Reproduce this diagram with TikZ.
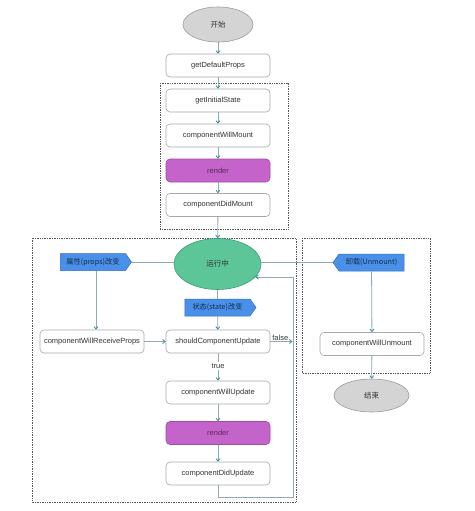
\documentclass[tikz,border=0pt]{standalone}
\usepackage{fontspec}
\setmainfont{Liberation Sans}
\newfontfamily\cjk{Noto Sans CJK SC}
\usetikzlibrary{shapes.geometric,shapes.symbols,arrows.meta}
\definecolor{linec}{HTML}{8FAAB2}
\definecolor{tipc}{HTML}{3C8CA0}
\definecolor{boxb}{HTML}{A8A8A8}
\definecolor{grayf}{HTML}{D4D4D4}
\definecolor{grayb}{HTML}{9C9C9C}
\definecolor{greenf}{HTML}{5CC698}
\definecolor{greenb}{HTML}{3E9C74}
\definecolor{purpf}{HTML}{C463C9}
\definecolor{purpb}{HTML}{A04CA8}
\definecolor{bluef}{HTML}{4A90E8}
\definecolor{blueb}{HTML}{2F6FC4}
\definecolor{txt}{HTML}{333333}
\definecolor{dotc}{HTML}{555555}
\tikzset{
  every node/.style={font=\fontsize{7.5}{8.5}\selectfont, text=txt, inner sep=0pt},
  stepbox/.style={draw=boxb, line width=0.6pt, fill=white, rounded corners=4pt, minimum width=104pt, minimum height=23pt},
  renderbox/.style={stepbox, draw=purpb, fill=purpf, text=purpb!55!black},
  endell/.style={ellipse, draw=grayb, fill=grayf, line width=0.6pt, font=\fontsize{7.5}{8.5}\selectfont\cjk},
  runell/.style={ellipse, draw=greenb, fill=greenf, line width=0.6pt, minimum width=87pt, minimum height=51pt, font=\fontsize{7.5}{8.5}\selectfont\cjk},
  flagr/.style={signal, signal to=east, signal pointer angle=110, draw=blueb, fill=bluef, line width=0.5pt, minimum width=71pt, minimum height=17pt, text=blueb!40!black, font=\fontsize{7.2}{8}\selectfont\cjk},
  flagl/.style={flagr, signal to=west},
  arr/.style={draw=linec, line width=0.8pt, -{Straight Barb[length=2.5pt,width=4pt,color=tipc]}},
  ln/.style={draw=linec, line width=0.8pt},
  group/.style={draw=dotc, densely dotted, line width=0.7pt},
  lbl/.style={font=\fontsize{7.5}{8.5}\selectfont, text=txt}
}
\begin{document}
\begin{tikzpicture}[x=1pt,y=-1pt]
\useasboundingbox[fill=white] (0,0) rectangle (474,511);
% groups
\draw[group] (160,83) rectangle (288,229);
\draw[group] (32,238) rectangle (296,502);
\draw[group] (302,238) rectangle (430,373);
% nodes
\node[endell, minimum width=70pt, minimum height=35pt] (start) at (218,24.5) {开始};
\node[stepbox] (gdp) at (218,65.5) {getDefaultProps};
\node[stepbox] (gis) at (218,100.5) {getInitialState};
\node[stepbox] (cwm) at (218,135.5) {componentWillMount};
\node[renderbox] (r1) at (218,170.5) {render};
\node[stepbox] (cdm) at (218,205) {componentDidMount};
\node[runell] (run) at (217.5,264) {运行中};
\node[flagr] (props) at (93,262) {属性(props)改变};
\node[flagl] (unm) at (371.5,262.5) {卸载(Unmount)};
\node[flagr] (state) at (217.5,307.5) {状态(state)改变};
\node[stepbox] (cwrp) at (92,341.5) {componentWillReceiveProps};
\node[stepbox] (scu) at (218,341.5) {shouldComponentUpdate};
\node[stepbox] (cwun) at (372,344) {componentWillUnmount};
\node[stepbox] (cwu) at (218,392.5) {componentWillUpdate};
\node[renderbox] (r2) at (218,433) {render};
\node[stepbox] (cdu) at (218,473.5) {componentDidUpdate};
\node[endell, minimum width=75pt, minimum height=33pt] (end) at (371.5,395.5) {结束};
% coordinates
\coordinate (fx) at (292.5,341.5);
\coordinate (lb) at (293,497);
\coordinate (lt) at (293,277);
% connectors
\draw[arr] (start) -- (gdp);
\draw[arr] (gdp) -- (gis);
\draw[arr] (gis) -- (cwm);
\draw[arr] (cwm) -- (r1);
\draw[arr] (r1) -- (cdm);
\draw[arr] (cdm) -- (run);
\draw[ln] (props.east) -- (props.east -| run.west);
\draw[arr] (props.south -| 96,0) -- (cwrp.north -| 96,0);
\draw[ln] (run.east |- unm.west) -- (unm.west);
\draw[arr] (unm) -- (cwun);
\draw[arr] (cwun) -- (end);
\draw[ln] (run) -- (state);
\draw[arr] (state) -- (scu);
\draw[arr] (cwrp) -- (scu);
\draw[arr] (scu) -- node[lbl, above=1pt, pos=0.45] {false} (fx);
\draw[arr] (scu) -- node[lbl, fill=white, inner ysep=1.5pt, pos=0.45] {true} (cwu);
\draw[arr] (cwu) -- (r2);
\draw[arr] (r2) -- (cdu);
\draw[arr] (cdu.south) |- (lb) -- (lt) -- (lt -| run.-19);
\end{tikzpicture}
\end{document}
